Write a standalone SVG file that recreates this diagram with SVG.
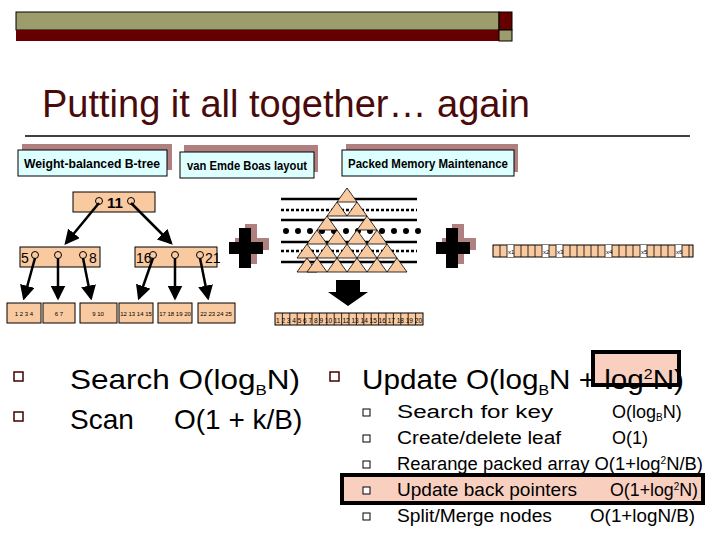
<svg xmlns="http://www.w3.org/2000/svg" width="720" height="540" viewBox="0 0 720 540">
<defs>
<style>
text{font-family:"Liberation Sans",Arial,sans-serif}
.nd{fill:#f9c9a0;stroke:#000;stroke-width:1}
.lf{fill:#f9c9a0;stroke:#000;stroke-width:1}
.lab{fill:#dff;stroke:#000;stroke-width:1}
.sh{fill:#b08080}
.ar{stroke:#000;stroke-width:2.5;marker-end:url(#ah)}
.pc{fill:none;stroke:#000;stroke-width:1}
.sq{fill:#fff;stroke:#400;stroke-width:1.5}
.ssq{fill:#fff;stroke:#000;stroke-width:1}
.big{font-size:28px}
.sm{font-size:18px}
</style>
<marker id="ah" markerWidth="6" markerHeight="6" refX="5" refY="3" orient="auto" markerUnits="strokeWidth"><path d="M0,0 L6,3 L0,6 Z" fill="#000"/></marker>
</defs>
<rect width="720" height="540" fill="#fff"/>
<g id="topbar">
<rect x="16" y="12" width="483" height="18" fill="#9c9c6c" stroke="#000"/>
<rect x="16" y="30" width="483" height="11" fill="#600"/>
<rect x="499" y="12" width="13" height="18" fill="#600" stroke="#000"/>
<rect x="499" y="30" width="13" height="11" fill="#9c9c6c" stroke="#000"/>
</g>
<text x="42" y="117" font-size="38" fill="#4a0a0a" textLength="488" lengthAdjust="spacingAndGlyphs">Putting it all together… again</text>
<line x1="25" y1="136" x2="690" y2="136" stroke="#000" stroke-width="1.5"/>
<g id="lab1"><rect class="sh" x="22" y="144" width="150" height="26"/><rect class="lab" x="18" y="150" width="149" height="26"/><text x="92" y="168" text-anchor="middle" font-size="12.5" font-weight="bold" textLength="136" lengthAdjust="spacingAndGlyphs">Weight-balanced B-tree</text></g>
<g id="lab2"><rect class="sh" x="184" y="145" width="134" height="27"/><rect class="lab" x="180" y="152" width="134" height="26"/><text x="247" y="170" text-anchor="middle" font-size="12.5" font-weight="bold" textLength="120" lengthAdjust="spacingAndGlyphs">van Emde Boas layout</text></g>
<g id="lab3"><rect class="sh" x="346" y="144" width="172" height="28"/><rect class="lab" x="342" y="150" width="172" height="26"/><text x="428" y="168" text-anchor="middle" font-size="12.5" font-weight="bold" textLength="160" lengthAdjust="spacingAndGlyphs">Packed Memory Maintenance</text></g>
<g id="root"><rect class="nd" x="73" y="192" width="82" height="20"/><circle class="pc" cx="99" cy="201" r="3.5"/><circle class="pc" cx="131" cy="201" r="3.5"/><text x="115" y="208" text-anchor="middle" font-size="15" font-weight="bold">11</text></g>
<g id="mid1"><rect class="nd" x="20" y="247" width="80" height="20"/><text x="21" y="263" font-size="14">5</text><circle class="pc" cx="35" cy="255" r="3.5"/><circle class="pc" cx="58" cy="255" r="3.5"/><circle class="pc" cx="83" cy="255" r="3.5"/><text x="89" y="263" font-size="14">8</text></g>
<g id="mid2"><rect class="nd" x="135" y="247" width="82" height="20"/><text x="136" y="263" font-size="14">16</text><circle class="pc" cx="153" cy="255" r="3.5"/><circle class="pc" cx="175" cy="255" r="3.5"/><circle class="pc" cx="200" cy="255" r="3.5"/><text x="205" y="263" font-size="14">21</text></g>
<g id="leaves" font-size="6">
<rect class="lf" x="7" y="303" width="34" height="20"/><text x="24" y="316" text-anchor="middle">1 2 3 4</text>
<rect class="lf" x="43" y="303" width="32" height="20"/><text x="59" y="316" text-anchor="middle">6 7</text>
<rect class="lf" x="80" y="303" width="37" height="20"/><text x="98" y="316" text-anchor="middle">9 10</text>
<rect class="lf" x="119" y="303" width="34" height="20"/><text x="136" y="316" text-anchor="middle">12 13 14 15</text>
<rect class="lf" x="158" y="303" width="34" height="20"/><text x="175" y="316" text-anchor="middle">17 18 19 20</text>
<rect class="lf" x="198" y="303" width="37" height="20"/><text x="216" y="316" text-anchor="middle">22 23 24 25</text>
</g>
<g id="connectors">
<line class="ar" x1="99" y1="203" x2="66" y2="243"/>
<line class="ar" x1="131" y1="203" x2="171" y2="243"/>
<line class="ar" x1="35" y1="258" x2="24" y2="298"/>
<line class="ar" x1="58" y1="258" x2="58" y2="298"/>
<line class="ar" x1="83" y1="258" x2="91" y2="298"/>
<line class="ar" x1="153" y1="258" x2="139" y2="298"/>
<line class="ar" x1="175" y1="258" x2="175" y2="298"/>
<line class="ar" x1="200" y1="258" x2="208" y2="298"/>
</g>
<g id="plus1"><path d="M239,228h12v14h12v12h-12v14h-12v-14h-10v-12h10z" fill="#b08080" transform="translate(6,-4)"/><path d="M239,228h12v14h12v12h-12v14h-12v-14h-10v-12h10z" fill="#000"/></g>
<g id="plus2"><path d="M446,228h12v14h12v12h-12v14h-12v-14h-10v-12h10z" fill="#b08080" transform="translate(6,-4)"/><path d="M446,228h12v14h12v12h-12v14h-12v-14h-10v-12h10z" fill="#000"/></g>
<g id="veb">
<g stroke="#000" stroke-width="2.5">
<line x1="281" y1="199" x2="417" y2="199"/>
<line x1="281" y1="220" x2="417" y2="220"/>
<line x1="281" y1="242" x2="417" y2="242"/>
<line x1="281" y1="262" x2="417" y2="262"/>
<line x1="281" y1="210" x2="417" y2="210" stroke-dasharray="3,2"/>
<line x1="281" y1="251" x2="417" y2="251" stroke-dasharray="3,2"/>
</g>
<line x1="286" y1="231" x2="420" y2="231" stroke="#000" stroke-width="6" stroke-linecap="round" stroke-dasharray="0,12"/>
<g fill="#f9c9a0" stroke="#000" stroke-width="0.8">
<path d="M347,188 L357,202 L337,202 Z"/>
<path d="M337,202 L347,216 L327,216 Z"/><path d="M357,202 L367,216 L347,216 Z"/>
<path d="M327,216 L337,230 L317,230 Z"/><path d="M367,216 L377,230 L357,230 Z"/>
<path d="M317,230 L327,244 L307,244 Z"/><path d="M337,230 L347,244 L327,244 Z"/><path d="M357,230 L367,244 L347,244 Z"/><path d="M377,230 L387,244 L367,244 Z"/>
<path d="M307,244 L317,258 L297,258 Z"/><path d="M327,244 L337,258 L317,258 Z"/><path d="M347,244 L357,258 L337,258 Z"/><path d="M367,244 L377,258 L357,258 Z"/><path d="M387,244 L397,258 L377,258 Z"/>
<path d="M307,258 L317,272 L297,272 Z"/><path d="M317,258 L327,272 L307,272 Z"/><path d="M337,258 L347,272 L327,272 Z"/><path d="M357,258 L367,272 L347,272 Z"/><path d="M377,258 L387,272 L367,272 Z"/><path d="M397,258 L407,272 L387,272 Z"/>
</g>
<path d="M336,280h24v12h8l-20,14l-20,-14h8z" fill="#000"/>
<rect class="lf" x="275" y="313" width="148" height="12"/>
<g stroke="#000" stroke-width="0.8">
<line x1="282.4" y1="313" x2="282.4" y2="325"/><line x1="289.8" y1="313" x2="289.8" y2="325"/><line x1="297.2" y1="313" x2="297.2" y2="325"/><line x1="304.6" y1="313" x2="304.6" y2="325"/><line x1="312" y1="313" x2="312" y2="325"/><line x1="319.4" y1="313" x2="319.4" y2="325"/><line x1="326.8" y1="313" x2="326.8" y2="325"/><line x1="334.2" y1="313" x2="334.2" y2="325"/><line x1="341.6" y1="313" x2="341.6" y2="325"/><line x1="349" y1="313" x2="349" y2="325"/><line x1="356.4" y1="313" x2="356.4" y2="325"/><line x1="363.8" y1="313" x2="363.8" y2="325"/><line x1="371.2" y1="313" x2="371.2" y2="325"/><line x1="378.6" y1="313" x2="378.6" y2="325"/><line x1="386" y1="313" x2="386" y2="325"/><line x1="393.4" y1="313" x2="393.4" y2="325"/><line x1="400.8" y1="313" x2="400.8" y2="325"/><line x1="408.2" y1="313" x2="408.2" y2="325"/><line x1="415.6" y1="313" x2="415.6" y2="325"/>
</g>
<text x="276" y="323" font-size="8" textLength="146" lengthAdjust="spacingAndGlyphs">1 2 3 4 5 6 7 8 9 10 11 12 13 14 15 16 17 18 19 20</text>
</g>
<g id="pma">
<rect class="lf" x="493" y="245" width="200" height="12"/>
<g fill="#fff"><rect x="507" y="245" width="7" height="12"/><rect x="542" y="245" width="7" height="12"/><rect x="556" y="245" width="7" height="12"/><rect x="605" y="245" width="7" height="12"/><rect x="640" y="245" width="7" height="12"/><rect x="675" y="245" width="7" height="12"/></g>
<g stroke="#000" stroke-width="0.8">
<line x1="500" y1="245" x2="500" y2="257"/><line x1="507" y1="245" x2="507" y2="257"/><line x1="514" y1="245" x2="514" y2="257"/><line x1="521" y1="245" x2="521" y2="257"/><line x1="528" y1="245" x2="528" y2="257"/><line x1="535" y1="245" x2="535" y2="257"/><line x1="542" y1="245" x2="542" y2="257"/><line x1="549" y1="245" x2="549" y2="257"/><line x1="556" y1="245" x2="556" y2="257"/><line x1="563" y1="245" x2="563" y2="257"/><line x1="570" y1="245" x2="570" y2="257"/><line x1="577" y1="245" x2="577" y2="257"/><line x1="584" y1="245" x2="584" y2="257"/><line x1="591" y1="245" x2="591" y2="257"/><line x1="598" y1="245" x2="598" y2="257"/><line x1="605" y1="245" x2="605" y2="257"/><line x1="612" y1="245" x2="612" y2="257"/><line x1="619" y1="245" x2="619" y2="257"/><line x1="626" y1="245" x2="626" y2="257"/><line x1="633" y1="245" x2="633" y2="257"/><line x1="640" y1="245" x2="640" y2="257"/><line x1="647" y1="245" x2="647" y2="257"/><line x1="654" y1="245" x2="654" y2="257"/><line x1="661" y1="245" x2="661" y2="257"/><line x1="668" y1="245" x2="668" y2="257"/><line x1="675" y1="245" x2="675" y2="257"/><line x1="682" y1="245" x2="682" y2="257"/><line x1="689" y1="245" x2="689" y2="257"/>
</g>
<g font-size="6"><text x="508" y="254">x1</text><text x="543" y="254">x2</text><text x="557" y="254">x3</text><text x="606" y="254">x4</text><text x="641" y="254">x5</text><text x="676" y="254">x6</text></g>
</g>
<g id="left-text">
<rect class="sq" x="14" y="372" width="9" height="9"/><rect class="sq" x="14" y="412" width="9" height="9"/>
<text class="big" x="70" y="389" textLength="230" lengthAdjust="spacingAndGlyphs">Search  O(log<tspan font-size="15" dy="6">B</tspan><tspan dy="-6">N)</tspan></text>
<text class="big" x="70" y="429">Scan<tspan x="174">O(1 + k/B)</tspan></text>
</g>
<g id="right-text">
<rect x="593" y="352" width="86" height="33" fill="#f9d0c0" stroke="#000" stroke-width="4"/>
<rect x="342" y="475" width="361" height="28" fill="#f9d0c0" stroke="#000" stroke-width="4"/>
<rect class="sq" x="330" y="372" width="9" height="9"/>
<text class="big" x="362" y="389" textLength="322" lengthAdjust="spacingAndGlyphs">Update  O(log<tspan font-size="15" dy="6">B</tspan><tspan dy="-6">N + log</tspan><tspan font-size="15" dy="-10">2</tspan><tspan dy="10">N)</tspan></text>
<rect class="ssq" x="363" y="409" width="7" height="7"/><rect class="ssq" x="363" y="435" width="7" height="7"/><rect class="ssq" x="363" y="461" width="7" height="7"/><rect class="ssq" x="363" y="487" width="7" height="7"/><rect class="ssq" x="363" y="513" width="7" height="7"/>
<g class="sm">
<text x="397" y="418" textLength="156" lengthAdjust="spacingAndGlyphs">Search for key</text><text x="612" y="418">O(log<tspan font-size="10" dy="3">B</tspan><tspan dy="-3">N)</tspan></text>
<text x="397" y="444" textLength="164" lengthAdjust="spacingAndGlyphs">Create/delete leaf</text><text x="612" y="444">O(1)</text>
<text x="397" y="470" textLength="306" lengthAdjust="spacingAndGlyphs">Rearange packed array O(1+log<tspan font-size="10" dy="-6">2</tspan><tspan dy="6">N/B)</tspan></text>
<text x="397" y="496" textLength="180" lengthAdjust="spacingAndGlyphs">Update back pointers</text><text x="610" y="496" textLength="88" lengthAdjust="spacingAndGlyphs">O(1+log<tspan font-size="10" dy="-6">2</tspan><tspan dy="6">N)</tspan></text>
<text x="397" y="522" textLength="155" lengthAdjust="spacingAndGlyphs">Split/Merge nodes</text><text x="590" y="522" textLength="105" lengthAdjust="spacingAndGlyphs">O(1+logN/B)</text>
</g>
</g>
</svg>
